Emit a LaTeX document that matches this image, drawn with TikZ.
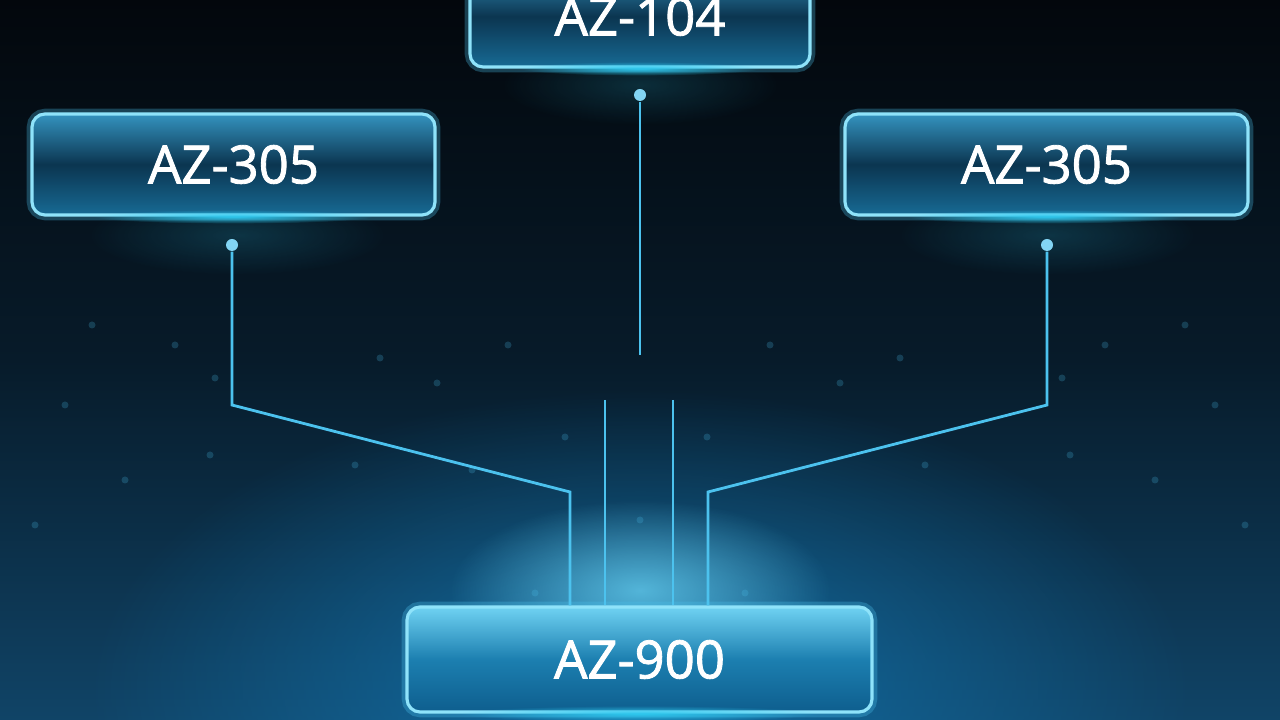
\documentclass[tikz,border=0pt]{standalone}
\usepackage{fontspec}
\setmainfont{Open Sans}
\newfontfamily\labelfont{Open Sans}[FakeBold=1.6]
\usetikzlibrary{fadings,shadings}
\definecolor{bgtop}{HTML}{03070C}
\definecolor{bgmid}{HTML}{071B2A}
\definecolor{bgbot}{HTML}{104467}
\definecolor{glowblue}{HTML}{1482C2}
\definecolor{glowcyan}{HTML}{6AD4F5}
\definecolor{wire}{HTML}{4CC2EE}
\definecolor{edge}{HTML}{2EC8EE}
\definecolor{rim}{HTML}{8FE3FA}
\definecolor{boxtop}{HTML}{3493BF}
\definecolor{boxmid}{HTML}{0B3550}
\definecolor{boxbot}{HTML}{176A94}
\definecolor{btop}{HTML}{6FD2F2}
\definecolor{bmid}{HTML}{1C7FB0}
\definecolor{bbot}{HTML}{0E5E8E}
\tikzfading[name=glowfade, inner color=transparent!0, outer color=transparent!100]
\tikzset{
  cert/.style={rounded corners=0.13cm, draw=rim, line width=0.9pt,
    top color=boxtop, bottom color=boxbot, middle color=boxmid,
    text=white, font=\labelfont\fontsize{15}{18}\selectfont, inner sep=0pt,
    preaction={draw=wire, line width=3pt, opacity=0.3}},
  certbase/.style={cert, top color=btop, bottom color=bbot, middle color=bmid},
  wireline/.style={draw=wire, line width=0.8pt},
  pin/.style={circle, fill=wire!70!white, inner sep=0pt, minimum size=0.12cm},
  speck/.style={fill=wire, opacity=0.22},
  halo/.style={fill=edge, path fading=glowfade},
}
\begin{document}
\begin{tikzpicture}
\useasboundingbox (0,0) rectangle (12.8,-7.2);
\clip (0,0) rectangle (12.8,-7.2);
% background
\shade[top color=bgtop, bottom color=bgbot, middle color=bgmid] (0,0) rectangle (12.8,-7.2);
\fill[glowblue, path fading=glowfade, opacity=0.7] (6.4,-6.9) ellipse (5.5 and 3.0);
\fill[glowcyan, path fading=glowfade, opacity=0.75] (6.4,-5.9) ellipse (1.9 and 0.9);
% specks
\foreach \x/\y in {0.92/3.25,1.75/3.45,2.15/3.78,3.80/3.58,4.37/3.83,5.08/3.45,5.65/4.37,4.72/4.70,7.07/4.37,7.70/3.45,8.40/3.83,9.00/3.58,11.05/3.45,11.85/3.25,10.62/3.78,0.65/4.05,0.35/5.25,12.45/5.25,12.15/4.05,3.55/4.65,9.25/4.65,5.35/5.93,7.45/5.93,2.10/4.55,10.70/4.55,6.40/5.20,1.25/4.80,11.55/4.80}
  \fill[speck] (\x,-\y) circle (0.035);
% halos under boxes
\fill[halo, opacity=0.18] (2.37,-2.35) ellipse (1.5 and 0.4);
\fill[halo, opacity=0.18] (10.47,-2.35) ellipse (1.5 and 0.4);
\fill[halo, opacity=0.18] (6.40,-0.85) ellipse (1.4 and 0.4);
% boxes
\node[cert, minimum width=3.40cm, minimum height=1.01cm] (az104) at (6.40,-0.165) {AZ-104};
\node[cert, minimum width=4.03cm, minimum height=1.01cm] (az305l) at (2.335,-1.645) {AZ-305};
\node[cert, minimum width=4.03cm, minimum height=1.01cm] (az305r) at (10.465,-1.645) {AZ-305};
\node[certbase, minimum width=4.65cm, minimum height=1.05cm] (az900) at (6.395,-6.595) {AZ-900};
% bright edges under boxes
\fill[halo] (az305l.south) ellipse (1.4 and 0.07);
\fill[halo] (az305r.south) ellipse (1.4 and 0.07);
\fill[halo] (az104.south) ellipse (1.2 and 0.07);
\fill[halo] (az900.south) ellipse (1.8 and 0.08);
% pins
\node[pin] (pL) at (2.32,-2.45) {};
\node[pin] (pR) at (10.47,-2.45) {};
\node[pin] (pT) at (6.40,-0.95) {};
% connectors
\coordinate (bL1) at (2.32,-4.05);
\coordinate (bL2) at (5.70,-4.92);
\coordinate (bR1) at (10.47,-4.05);
\coordinate (bR2) at (7.08,-4.92);
\coordinate (tEnd) at (6.40,-3.55);
\coordinate (vL) at (6.05,-4.00);
\coordinate (vR) at (6.73,-4.00);
\draw[wireline] (pL.south) -- (bL1) -- (bL2) -- (bL2 |- az900.north);
\draw[wireline] (pR.south) -- (bR1) -- (bR2) -- (bR2 |- az900.north);
\draw[wireline] (pT.south) -- (tEnd);
\draw[wireline] (vL) -- (vL |- az900.north);
\draw[wireline] (vR) -- (vR |- az900.north);
\end{tikzpicture}
\end{document}
